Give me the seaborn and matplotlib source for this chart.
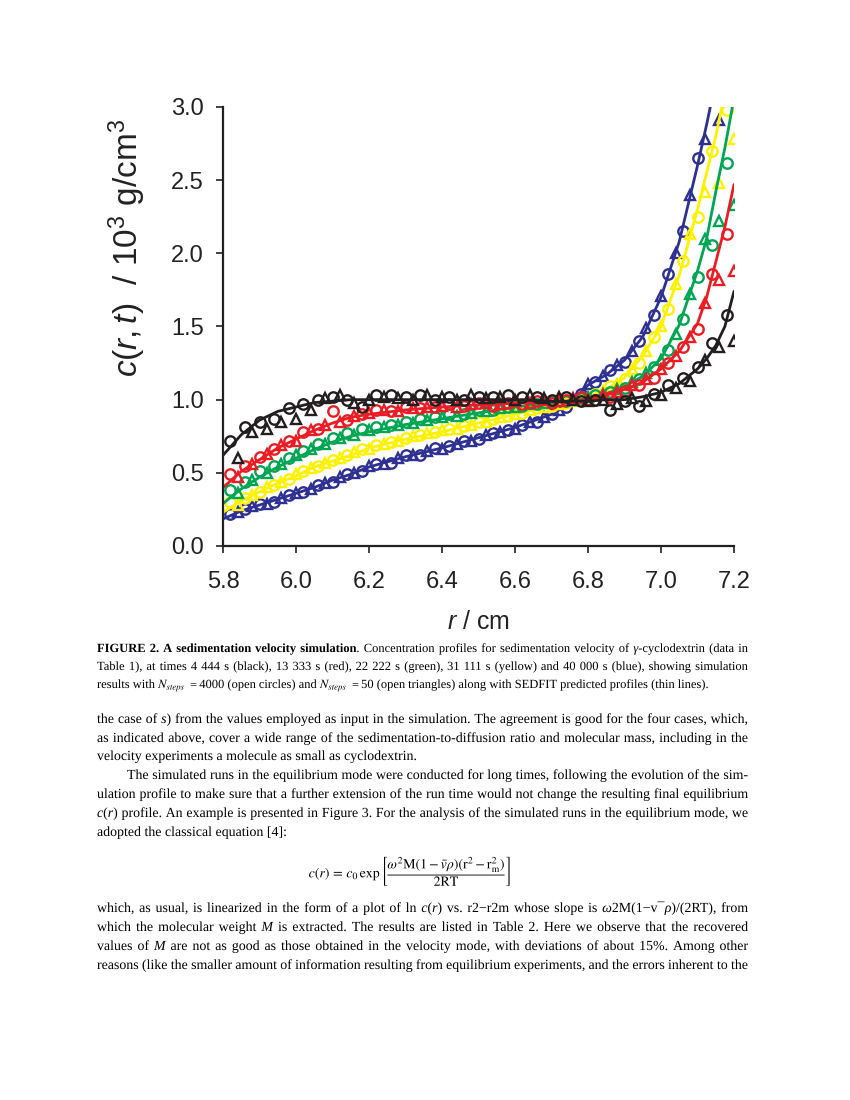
import re
import matplotlib
matplotlib.use('Agg')
import matplotlib.pyplot as plt
import matplotlib.patheffects as pe
import seaborn as sns

# radial positions of the SEDFIT profiles (thin lines)
r_line = [5.80, 5.85, 5.90, 5.95, 6.00, 6.05, 6.10, 6.15, 6.20, 6.30, 6.40, 6.50, 6.60,
          6.70, 6.75, 6.80, 6.85, 6.90, 6.95, 7.00, 7.05, 7.10, 7.125, 7.15, 7.175, 7.20]
fit_black = [0.62, 0.76, 0.86, 0.92, 0.95, 0.98, 0.99, 1.00, 1.00, 1.00, 1.00, 1.00, 1.00,
             0.99, 0.99, 0.99, 1.00, 1.00, 1.02, 1.05, 1.11, 1.21, 1.28, 1.37, 1.50, 1.74]
fit_red = [0.40, 0.51, 0.59, 0.67, 0.73, 0.79, 0.84, 0.88, 0.90, 0.93, 0.95, 0.965, 0.975,
           0.985, 0.99, 1.00, 1.03, 1.07, 1.12, 1.21, 1.33, 1.52, 1.70, 1.94, 2.18, 2.47]
fit_green = [0.29, 0.39, 0.47, 0.54, 0.60, 0.66, 0.71, 0.75, 0.78, 0.83, 0.87, 0.91, 0.95,
             0.98, 0.99, 1.01, 1.04, 1.09, 1.16, 1.28, 1.51, 1.88, 2.10, 2.42, 2.72, 3.06]
fit_yellow = [0.23, 0.31, 0.37, 0.43, 0.48, 0.54, 0.58, 0.62, 0.67, 0.73, 0.78, 0.84, 0.90,
              0.96, 0.98, 1.02, 1.07, 1.15, 1.30, 1.50, 1.85, 2.30, 2.55, 2.80, 3.10, 3.40]
fit_blue = [0.185, 0.24, 0.28, 0.32, 0.36, 0.40, 0.45, 0.49, 0.54, 0.61, 0.67, 0.74, 0.81,
            0.90, 0.97, 1.10, 1.17, 1.27, 1.43, 1.70, 2.08, 2.60, 2.88, 3.18, 3.50, 3.85]

# N_steps = 4000 (open circles)
r_circ = [5.82, 5.86, 5.90, 5.94, 5.98, 6.02, 6.06, 6.10, 6.14, 6.18, 6.22, 6.26, 6.30, 6.34,
          6.38, 6.42, 6.46, 6.50, 6.54, 6.58, 6.62, 6.66, 6.70, 6.74, 6.78, 6.82, 6.86, 6.90,
          6.94, 6.98, 7.02, 7.06, 7.10, 7.14, 7.18]
circ_black = [0.72, 0.81, 0.85, 0.87, 0.94, 0.97, 1.00, 1.02, 1.00, 0.95, 1.03, 1.03, 1.02, 1.03,
              1.00, 1.02, 1.00, 1.02, 1.02, 1.03, 1.02, 1.02, 1.00, 1.02, 0.99, 1.00, 0.93, 0.99,
              0.96, 1.04, 1.10, 1.15, 1.22, 1.39, 1.58]
circ_red = [0.49, 0.55, 0.61, 0.66, 0.72, 0.78, 0.80, 0.92, 0.86, 0.90, 0.93, 0.92, 0.95, 0.94,
            0.95, 0.97, 0.96, 0.98, 0.96, 0.98, 0.97, 0.99, 0.98, 1.00, 1.02, 1.00, 1.02, 1.06,
            1.10, 1.15, 1.25, 1.36, 1.48, 1.86, 2.13]
circ_green = [0.38, 0.44, 0.51, 0.55, 0.60, 0.65, 0.70, 0.74, 0.77, 0.80, 0.81, 0.83, 0.85, 0.87,
              0.88, 0.90, 0.90, 0.93, 0.93, 0.95, 0.96, 0.97, 0.99, 0.99, 1.01, 1.03, 1.05, 1.08,
              1.14, 1.22, 1.34, 1.55, 1.84, 2.06, 2.62]
circ_yellow = [0.30, 0.33, 0.37, 0.42, 0.46, 0.51, 0.55, 0.59, 0.62, 0.66, 0.69, 0.71, 0.74, 0.76,
               0.78, 0.80, 0.82, 0.85, 0.87, 0.89, 0.91, 0.94, 0.96, 0.98, 1.00, 1.04, 1.09, 1.14,
               1.25, 1.43, 1.62, 1.95, 2.25, 2.70, 2.98]
circ_blue = [0.22, 0.25, 0.29, 0.30, 0.35, 0.37, 0.42, 0.44, 0.49, 0.51, 0.56, 0.57, 0.62, 0.62,
             0.67, 0.68, 0.72, 0.73, 0.77, 0.79, 0.83, 0.85, 0.90, 0.95, 1.04, 1.12, 1.20, 1.26,
             1.40, 1.58, 1.86, 2.15, 2.65, 3.10, 3.60]

# N_steps = 50 (open triangles)
r_tri = [5.84, 5.88, 5.92, 5.96, 6.00, 6.04, 6.08, 6.12, 6.16, 6.20, 6.24, 6.28, 6.32, 6.36,
         6.40, 6.44, 6.48, 6.52, 6.56, 6.60, 6.64, 6.68, 6.72, 6.76, 6.80, 6.84, 6.88, 6.92,
         6.96, 7.00, 7.04, 7.08, 7.12, 7.16, 7.20]
tri_black = [0.60, 0.78, 0.80, 0.85, 0.87, 0.93, 1.01, 1.03, 0.98, 1.00, 1.02, 1.01, 1.00, 1.03,
             1.02, 1.00, 1.03, 1.01, 1.02, 1.00, 1.03, 1.01, 1.02, 1.00, 0.99, 1.00, 0.97, 1.01,
             0.99, 1.03, 1.08, 1.13, 1.27, 1.36, 1.40]
tri_red = [0.47, 0.56, 0.63, 0.69, 0.72, 0.79, 0.83, 0.85, 0.89, 0.91, 0.93, 0.92, 0.94, 0.95,
           0.96, 0.95, 0.97, 0.98, 0.97, 0.99, 0.98, 1.00, 0.99, 1.01, 1.00, 1.03, 1.05, 1.10,
           1.14, 1.21, 1.30, 1.43, 1.66, 1.82, 1.88]
tri_green = [0.36, 0.45, 0.50, 0.56, 0.62, 0.66, 0.70, 0.74, 0.76, 0.79, 0.81, 0.83, 0.84, 0.86,
             0.88, 0.89, 0.91, 0.92, 0.94, 0.95, 0.97, 0.98, 0.99, 1.00, 1.02, 1.04, 1.07, 1.12,
             1.18, 1.27, 1.45, 1.72, 2.10, 2.22, 2.33]
tri_yellow = [0.28, 0.35, 0.40, 0.44, 0.49, 0.53, 0.57, 0.60, 0.64, 0.66, 0.70, 0.72, 0.75, 0.77,
              0.79, 0.80, 0.83, 0.85, 0.88, 0.90, 0.93, 0.95, 0.97, 0.99, 1.02, 1.06, 1.11, 1.21,
              1.33, 1.50, 1.79, 2.13, 2.42, 2.48, 2.78]
tri_blue = [0.23, 0.27, 0.29, 0.33, 0.36, 0.39, 0.43, 0.47, 0.50, 0.55, 0.56, 0.60, 0.62, 0.65,
            0.66, 0.70, 0.72, 0.76, 0.78, 0.80, 0.85, 0.88, 0.93, 1.00, 1.11, 1.16, 1.24, 1.33,
            1.49, 1.71, 2.00, 2.40, 2.78, 2.91, 3.80]

x_ticks = [5.8, 6.0, 6.2, 6.4, 6.6, 6.8, 7.0, 7.2]
x_tick_labels = ['5.8', '6.0', '6.2', '6.4', '6.6', '6.8', '7.0', '7.2']
y_ticks = [0.0, 0.5, 1.0, 1.5, 2.0, 2.5, 3.0]
y_tick_labels = ['0.0', '0.5', '1.0', '1.5', '2.0', '2.5', '3.0']

# drawing order: blue at the back, black on top
series = ['blue', 'yellow', 'green', 'red', 'black']
colors = {'black': '#231f20', 'red': '#ed1c24', 'green': '#00a651',
          'yellow': '#fff200', 'blue': '#2e3192'}
fits = {'black': fit_black, 'red': fit_red, 'green': fit_green,
        'yellow': fit_yellow, 'blue': fit_blue}
circles = {'black': circ_black, 'red': circ_red, 'green': circ_green,
           'yellow': circ_yellow, 'blue': circ_blue}
triangles = {'black': tri_black, 'red': tri_red, 'green': tri_green,
             'yellow': tri_yellow, 'blue': tri_blue}

sns.set_theme(style='ticks')
plt.rcParams['font.family'] = ['Liberation Sans', 'DejaVu Sans']
plt.rcParams.update({
    'mathtext.fontset': 'custom',
    'mathtext.rm': 'Liberation Sans',
    'mathtext.it': 'Liberation Sans:italic',
    'mathtext.bf': 'Liberation Sans:bold',
})

W, H = 850, 1100
fig = plt.figure(figsize=(8.5, 11), dpi=100)
fig.patch.set_facecolor('white')
ax = fig.add_axes([223 / W, 1 - 546 / H, 511 / W, 439 / H])
ax.set_facecolor('white')

for name in series:
    c = colors[name]
    sns.lineplot(x=r_circ, y=circles[name], ax=ax, color=c, marker='o',
                 linestyle='none', markersize=7.5, markerfacecolor='none',
                 markeredgecolor=c, markeredgewidth=1.7, estimator=None, sort=False)
    sns.lineplot(x=r_tri, y=triangles[name], ax=ax, color=c, marker='^',
                 linestyle='none', markersize=7.5, markerfacecolor='none',
                 markeredgecolor=c, markeredgewidth=1.7, estimator=None, sort=False)
    sns.lineplot(x=r_line, y=fits[name], ax=ax, color=c, linewidth=2.0,
                 estimator=None, sort=False)

ax.set_xlim(5.8, 7.2)
ax.set_ylim(0, 3.0)
ax.set_xticks(x_ticks)
ax.set_xticklabels(x_tick_labels)
ax.set_yticks(y_ticks)
ax.set_yticklabels(y_tick_labels)
ax.tick_params(axis='both', direction='out', length=5, width=1.2, colors='#222222',
               labelsize=17)
ax.tick_params(axis='x', pad=13)
ax.tick_params(axis='y', pad=9)
for side in ['top', 'right']:
    ax.spines[side].set_visible(False)
for side in ['left', 'bottom']:
    ax.spines[side].set_linewidth(1.6)
    ax.spines[side].set_color('#222222')

ax.set_xlabel(r'$r$ / cm', fontsize=18, color='#222222')
ax.xaxis.set_label_coords(0.5, -0.145)
ax.set_ylabel(r'$c(r,t)$  / 10$^{3}$ g/cm$^{3}$', fontsize=24, color='#222222')
ax.yaxis.label.set_va('center')
ax.yaxis.set_label_coords(-0.188, 0.68)

# ---- page text below the chart ----
STY = {
    'r': dict(family='Liberation Serif'),
    'b': dict(family='Liberation Serif', weight='bold'),
    'i': dict(family='Liberation Serif', style='italic'),
    'm': dict(family='Liberation Serif', math_fontfamily='stix'),
}
as_path = [pe.Normal()]


def pieces(word):
    out = []
    for part in re.split(r'(\$[^$]+\$|\*\*[^*]+\*\*|_[^_]+_)', word):
        if not part:
            continue
        if part.startswith('$'):
            out.append((part, 'm'))
        elif part.startswith('**'):
            out.append((part[2:-2], 'b'))
        elif part.startswith('_') and part.endswith('_') and len(part) > 1:
            out.append((part[1:-1], 'i'))
        else:
            out.append((part, 'r'))
    return out


renderer = fig.canvas.get_renderer()


def draw_line(text, y, x0=97, x1=748, size=9.5, justify=True):
    groups = []
    for w in text.split(' '):
        arts = []
        for s, st in pieces(w):
            # a lone "=" keeps the bitmap renderer so both bars stay sharp
            effects = None if s == '=' else as_path
            arts.append(fig.text(0, 1 - y / H, s, fontsize=size, va='baseline', ha='left',
                                 color='black', path_effects=effects, **STY[st]))
        groups.append(arts)
    widths = [[t.get_window_extent(renderer).width for t in g] for g in groups]
    total = sum(sum(ws) for ws in widths)
    if justify and len(groups) > 1:
        gap = (x1 - x0 - total) / (len(groups) - 1)
    else:
        gap = 0.25 * size * 100 / 72
    x = x0
    for g, ws in zip(groups, widths):
        for t, w in zip(g, ws):
            t.set_x(x / W)
            x += w
        x += gap


caption = [
    "**FIGURE** **2.** **A** **sedimentation** **velocity** **simulation**. Concentration profiles for "
    "sedimentation velocity of _γ_-cyclodextrin (data in",
    "Table 1), at times 4 444 s (black), 13 333 s (red), 22 222 s (green), 31 111 s (yellow) and "
    "40 000 s (blue), showing simulation",
    "results with $N_{steps}$ = 4000 (open circles) and $N_{steps}$ = 50 (open triangles) along "
    "with SEDFIT predicted profiles (thin lines).",
]
for i, line in enumerate(caption):
    draw_line(line, 652 + 18 * i, size=9, justify=(i < 2))

body = [
    ("the case of _s_) from the values employed as input in the simulation. The agreement is good "
     "for the four cases, which,", 723, 97, True),
    ("as indicated above, cover a wide range of the sedimentation-to-diffusion ratio and molecular "
     "mass, including in the", 742, 97, True),
    ("velocity experiments a molecule as small as cyclodextrin.", 760, 97, False),
    ("The simulated runs in the equilibrium mode were conducted for long times, following the "
     "evolution of the sim-", 779, 127, True),
    ("ulation profile to make sure that a further extension of the run time would not change the "
     "resulting final equilibrium", 798, 97, True),
    ("_c_(_r_) profile. An example is presented in Figure 3. For the analysis of the simulated runs "
     "in the equilibrium mode, we", 817, 97, True),
    ("adopted the classical equation [4]:", 836, 97, False),
    ("which, as usual, is linearized in the form of a plot of ln _c_(_r_) vs. r2−r2m whose slope "
     "is _ω_2M(1−v¯_ρ_)/(2RT), from", 912, 97, True),
    ("which the molecular weight _M_ is extracted. The results are listed in Table 2. Here we "
     "observe that the recovered", 931, 97, True),
    ("values of _M_ are not as good as those obtained in the velocity mode, with deviations of "
     "about 15%. Among other", 950, 97, True),
    ("reasons (like the smaller amount of information resulting from equilibrium experiments, and "
     "the errors inherent to the", 969, 97, True),
]
for text, y, x0, just in body:
    draw_line(text, y, x0=x0, size=10, justify=just)

formula = (r'$c(r)\,=\,c_0\,\exp\left[\dfrac{\omega^2\mathrm{M}(1-\bar{v}\rho)'
           r'(\mathrm{r}^2-\mathrm{r}_\mathrm{m}^2)}{2\mathrm{RT}}\right]$')
fig.text(410 / W, 1 - 871 / H, formula, ha='center', va='center', fontsize=10,
         math_fontfamily='stix', color='black', path_effects=as_path)

fig.savefig('out.png', dpi=100, facecolor='white')
